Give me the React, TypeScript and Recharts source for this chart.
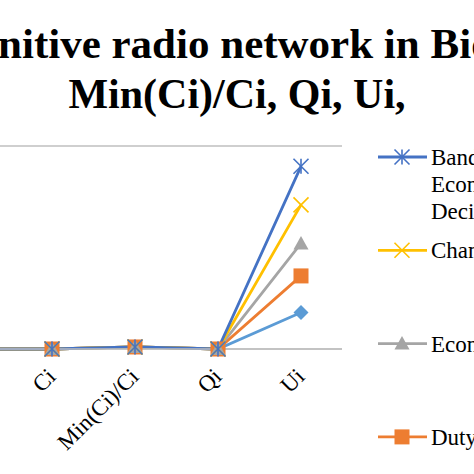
import { LineChart, Line, XAxis, YAxis, CartesianGrid } from 'recharts';

// values (y scale 0..1, gridline every 0.2)
const categories = ['Bi', 'Ci', 'Min(Ci)/Ci', 'Qi', 'Ui'];
const bandwidthEconomic = [0, 0, 0.01, 0, 0.9];
const channelAllocation = [0, 0, 0.01, 0, 0.71];
const economicModel = [0, 0, 0.01, 0, 0.52];
const dutyCycle = [0, 0, 0.01, 0, 0.36];
const proposedScheme = [0, 0, 0.01, 0, 0.18];
const yTicks = [0, 0.2, 0.4, 0.6, 0.8, 1];

const titleLines = ['Cognitive radio network in Bidding', 'Min(Ci)/Ci, Qi, Ui,'];

type MarkerKind = 'star' | 'x' | 'triangle' | 'square' | 'diamond';

const series: { key: string; label: string[]; color: string; marker: MarkerKind; values: number[] }[] = [
  { key: 'bandwidth', label: ['Bandwidth', 'Economic', 'Decision'], color: '#4472C4', marker: 'star', values: bandwidthEconomic },
  { key: 'channel', label: ['Channel Allocation'], color: '#FFC000', marker: 'x', values: channelAllocation },
  { key: 'economic', label: ['Economic Model'], color: '#A5A5A5', marker: 'triangle', values: economicModel },
  { key: 'duty', label: ['Duty Cycle'], color: '#ED7D31', marker: 'square', values: dutyCycle },
  { key: 'proposed', label: ['Proposed Scheme'], color: '#5B9BD5', marker: 'diamond', values: proposedScheme },
];

const data = categories.map((name, i) => {
  const row: Record<string, string | number> = { name };
  series.forEach((s) => {
    row[s.key] = s.values[i];
  });
  return row;
});

const FONT = '"Liberation Serif", "Times New Roman", serif';

function Marker({ cx, cy, kind, color }: { cx: number; cy: number; kind: MarkerKind; color: string }) {
  const r = 7.5;
  if (kind === 'star') {
    return (
      <g stroke={color} strokeWidth={1.6}>
        <line x1={cx - r} y1={cy - r} x2={cx + r} y2={cy + r} />
        <line x1={cx - r} y1={cy + r} x2={cx + r} y2={cy - r} />
        <line x1={cx} y1={cy - r} x2={cx} y2={cy + r} />
      </g>
    );
  }
  if (kind === 'x') {
    return (
      <g stroke={color} strokeWidth={1.6}>
        <line x1={cx - r} y1={cy - r} x2={cx + r} y2={cy + r} />
        <line x1={cx - r} y1={cy + r} x2={cx + r} y2={cy - r} />
      </g>
    );
  }
  if (kind === 'triangle') {
    return <polygon points={`${cx},${cy - r} ${cx + r},${cy + r * 0.8} ${cx - r},${cy + r * 0.8}`} fill={color} />;
  }
  if (kind === 'square') {
    return <rect x={cx - r} y={cy - r} width={r * 2} height={r * 2} fill={color} />;
  }
  return <polygon points={`${cx},${cy - r} ${cx + r},${cy} ${cx},${cy + r} ${cx - r},${cy}`} fill={color} />;
}

const AxisTick = ({ x, y, payload }: { x?: number; y?: number; payload?: { value: string } }) => {
  const ax = (x ?? 0) + 5;
  const ay = (y ?? 0) + 21;
  return (
    <text
      x={ax}
      y={ay}
      textAnchor="end"
      transform={`rotate(-45, ${ax}, ${ay})`}
      fontFamily={FONT}
      fontSize={23}
      fill="#000"
    >
      {payload?.value}
    </text>
  );
};

export default function App() {
  // lines drawn back to front so the first series ends up on top
  const drawOrder = [...series].reverse();

  return (
    <div style={{ position: 'fixed', left: 0, top: 0, width: 474, height: 474, overflow: 'hidden', background: '#fff' }}>
      <div style={{ position: 'absolute', left: -100, top: 0 }}>
        <LineChart width={560} height={474} data={data} margin={{ top: 146, right: 118, left: 28, bottom: 25 }}>
          <CartesianGrid vertical={false} stroke="#BFBFBF" strokeWidth={1.3} />
          <XAxis
            dataKey="name"
            height={100}
            interval={0}
            padding={{ left: 41, right: 41 }}
            axisLine={{ stroke: '#BFBFBF', strokeWidth: 1.3 }}
            tickLine={false}
            tick={<AxisTick />}
          />
          <YAxis domain={[0, 1]} ticks={yTicks} width={0} tick={false} axisLine={false} tickLine={false} />
          {drawOrder.map((s) => (
            <Line
              key={s.key}
              dataKey={s.key}
              stroke={s.color}
              strokeWidth={2.8}
              type="linear"
              isAnimationActive={false}
              dot={(p: { cx?: number; cy?: number; index?: number }) => (
                <Marker key={`${s.key}-${p.index}`} cx={p.cx ?? 0} cy={p.cy ?? 0} kind={s.marker} color={s.color} />
              )}
              activeDot={false}
            />
          ))}
        </LineChart>
      </div>

      <svg width={474} height={474} style={{ position: 'absolute', left: 0, top: 0, pointerEvents: 'none' }}>
        <text x={-76} y={58} fontFamily={FONT} fontWeight="bold" fontSize={43} fill="#000">
          {titleLines[0]}
        </text>
        <text x={237} y={108} textAnchor="middle" fontFamily={FONT} fontWeight="bold" fontSize={42} fill="#000">
          {titleLines[1]}
        </text>

        {series.map((s, i) => {
          const my = 157 + i * 93.3;
          return (
            <g key={s.key}>
              <line x1={378} y1={my} x2={427} y2={my} stroke={s.color} strokeWidth={2.8} />
              <Marker cx={402} cy={my} kind={s.marker} color={s.color} />
              {s.label.map((line, j) => (
                <text key={j} x={431} y={my + 8 + j * 27} fontFamily={FONT} fontSize={23} fill="#000">
                  {line}
                </text>
              ))}
            </g>
          );
        })}
      </svg>
    </div>
  );
}
